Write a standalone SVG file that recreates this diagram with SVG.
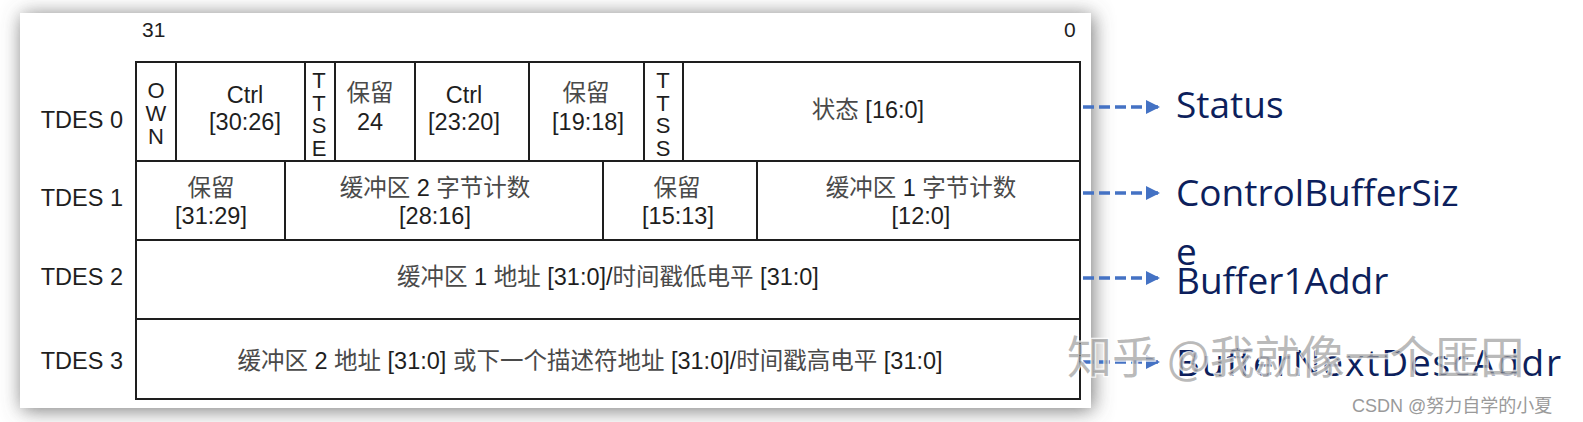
<svg xmlns="http://www.w3.org/2000/svg" width="1583" height="422" viewBox="0 0 1583 422">
<style>
  .t { font-family: "Liberation Sans", "Noto Sans CJK SC", sans-serif; font-size: 23.5px; fill: #1e1e1e; }
  .v { font-family: "Liberation Sans", sans-serif; font-size: 22px; fill: #1e1e1e; text-anchor: middle; }
  .m { text-anchor: middle; }
  .cj { fill: #4a4a4a; }
  .cell { fill: #ffffff; stroke: #1e1e1e; stroke-width: 2; }
  .ln { stroke: #1e1e1e; stroke-width: 2; fill: none; }
  .lbl { font-family: "Open Sans", "Noto Sans", sans-serif; font-size: 37px; fill: #0d1f5c; }
  .conn { stroke: #4472c4; stroke-width: 3.5; stroke-dasharray: 11 5; fill: none; }
  .wm { font-family: "Noto Sans CJK SC", "Liberation Sans", sans-serif; font-size: 45px; fill: #8c8c8c; fill-opacity: 0.6; stroke: #ffffff; stroke-opacity: 0.8; stroke-width: 2.5; paint-order: stroke; }
  .csdn { font-family: "Liberation Sans", "Noto Sans CJK SC", sans-serif; font-size: 18px; fill: #9a9a9a; }
</style>
<defs>
  <filter id="shadow" x="-10%" y="-20%" width="120%" height="140%">
    <feGaussianBlur in="SourceAlpha" stdDeviation="10"/>
    <feOffset dx="2" dy="2" result="b"/>
    <feFlood flood-color="#5e5e5e" flood-opacity="0.85"/>
    <feComposite in2="b" operator="in"/>
    <feMerge><feMergeNode/><feMergeNode in="SourceGraphic"/></feMerge>
  </filter>
  <marker id="ah" viewBox="0 0 14 14" refX="13" refY="7" markerWidth="14" markerHeight="14" markerUnits="userSpaceOnUse" orient="auto">
    <path d="M0,0 L14,7 L0,14 z" fill="#4472c4"/>
  </marker>
</defs>
<rect width="1583" height="422" fill="#ffffff"/>
<rect id="panel" x="20" y="13" width="1071" height="395" fill="#ffffff" filter="url(#shadow)"/>

<g id="bit-labels">
  <text class="t" x="142" y="37" style="font-size:21px">31</text>
  <text class="t" x="1064" y="37" style="font-size:21px">0</text>
</g>

<g id="row-labels">
  <text class="t" x="123" y="128" text-anchor="end">TDES 0</text>
  <text class="t" x="123" y="206" text-anchor="end">TDES 1</text>
  <text class="t" x="123" y="285" text-anchor="end">TDES 2</text>
  <text class="t" x="123" y="369" text-anchor="end">TDES 3</text>
</g>

<g id="table">
  <rect class="cell" x="136" y="62" width="944" height="337"/>
  <line class="ln" x1="136" y1="161" x2="1080" y2="161"/>
  <line class="ln" x1="136" y1="240" x2="1080" y2="240"/>
  <line class="ln" x1="136" y1="319" x2="1080" y2="319"/>
</g>

<g id="tdes0">
  <g id="own">
    <line class="ln" x1="176" y1="62" x2="176" y2="161"/>
    <text class="v" x="156" y="98">O</text>
    <text class="v" x="156" y="121">W</text>
    <text class="v" x="156" y="144">N</text>
  </g>
  <g id="ctrl-30-26">
    <line class="ln" x1="305" y1="62" x2="305" y2="161"/>
    <text class="t m" x="245" y="103">Ctrl</text>
    <text class="t m" x="245" y="130">[30:26]</text>
  </g>
  <g id="ttse">
    <line class="ln" x1="335" y1="62" x2="335" y2="161"/>
    <text class="v" x="319" y="88">T</text>
    <text class="v" x="319" y="111">T</text>
    <text class="v" x="319" y="133">S</text>
    <text class="v" x="319" y="156">E</text>
  </g>
  <g id="rsv-24">
    <line class="ln" x1="415" y1="62" x2="415" y2="161"/>
    <text class="t m cj" x="370" y="101">保留</text>
    <text class="t m" x="370" y="130">24</text>
  </g>
  <g id="ctrl-23-20">
    <line class="ln" x1="529" y1="62" x2="529" y2="161"/>
    <text class="t m" x="464" y="103">Ctrl</text>
    <text class="t m" x="464" y="130">[23:20]</text>
  </g>
  <g id="rsv-19-18">
    <line class="ln" x1="644" y1="62" x2="644" y2="161"/>
    <text class="t m cj" x="586" y="101">保留</text>
    <text class="t m" x="588" y="130">[19:18]</text>
  </g>
  <g id="ttss">
    <line class="ln" x1="683" y1="62" x2="683" y2="161"/>
    <text class="v" x="663" y="88">T</text>
    <text class="v" x="663" y="111">T</text>
    <text class="v" x="663" y="133">S</text>
    <text class="v" x="663" y="156">S</text>
  </g>
  <g id="status-field">
    <text class="t m" x="868" y="118"><tspan class="cj">状态</tspan> [16:0]</text>
  </g>
</g>

<g id="tdes1">
  <g id="rsv-31-29">
    <line class="ln" x1="285" y1="161" x2="285" y2="240"/>
    <text class="t m cj" x="211" y="196">保留</text>
    <text class="t m" x="211" y="224">[31:29]</text>
  </g>
  <g id="buf2-count">
    <line class="ln" x1="603" y1="161" x2="603" y2="240"/>
    <text class="t m" x="435" y="196"><tspan class="cj">缓冲区</tspan> 2 <tspan class="cj">字节计数</tspan></text>
    <text class="t m" x="435" y="224">[28:16]</text>
  </g>
  <g id="rsv-15-13">
    <line class="ln" x1="757" y1="161" x2="757" y2="240"/>
    <text class="t m cj" x="677" y="196">保留</text>
    <text class="t m" x="678" y="224">[15:13]</text>
  </g>
  <g id="buf1-count">
    <text class="t m" x="921" y="196"><tspan class="cj">缓冲区</tspan> 1 <tspan class="cj">字节计数</tspan></text>
    <text class="t m" x="921" y="224">[12:0]</text>
  </g>
</g>

<g id="tdes2">
  <text class="t m" x="608" y="285"><tspan class="cj">缓冲区</tspan> 1 <tspan class="cj">地址</tspan> [31:0]/<tspan class="cj">时间戳低电平</tspan> [31:0]</text>
</g>

<g id="tdes3">
  <text class="t m" x="590" y="369"><tspan class="cj">缓冲区</tspan> 2 <tspan class="cj">地址</tspan> [31:0] <tspan class="cj">或下一个描述符地址</tspan> [31:0]/<tspan class="cj">时间戳高电平</tspan> [31:0]</text>
</g>

<g id="connectors">
  <line class="conn" x1="1083" y1="107" x2="1159" y2="107" marker-end="url(#ah)"/>
  <line class="conn" x1="1083" y1="193" x2="1159" y2="193" marker-end="url(#ah)"/>
  <line class="conn" x1="1083" y1="278" x2="1159" y2="278" marker-end="url(#ah)"/>
  <line class="conn" x1="1083" y1="362" x2="1159" y2="362" marker-end="url(#ah)"/>
</g>

<g id="label-status"><text class="lbl" x="1176" y="118">Status</text></g>
<g id="label-controlbuffersize">
  <text class="lbl" x="1176" y="206">ControlBufferSiz</text>
  <text class="lbl" x="1176" y="265">e</text>
</g>
<g id="label-buffer1addr"><text class="lbl" x="1176" y="294">Buffer1Addr</text></g>
<g id="label-buffernextdescaddr"><text class="lbl" x="1176" y="376" textLength="385" lengthAdjust="spacing">BufferNextDescAddr</text></g>

<g id="watermarks">
  <text class="wm" x="1067" y="374">知乎 @我就像一个匪田</text>
  <text class="csdn" x="1352" y="412">CSDN @努力自学的小夏</text>
</g>
</svg>
